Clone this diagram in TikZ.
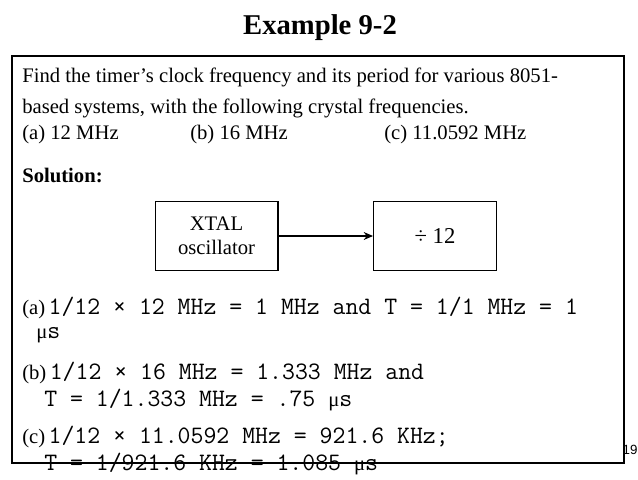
\documentclass[tikz,border=0pt]{standalone}
\usepackage{fontspec}
\setmainfont{Liberation Serif}
\setsansfont{Liberation Sans}
\usetikzlibrary{arrows.meta}
\newcommand{\mt}{\fontsize{18.8}{20}\selectfont\ttfamily}
\newcommand{\mr}{\fontsize{15.5}{17}\selectfont\rmfamily}
\begin{document}
\begin{tikzpicture}[x=0.75pt,y=-0.75pt,
  txt/.style={anchor=west,inner sep=0pt,font=\fontsize{15.5}{17}\selectfont},
  blk/.style={draw,line width=1pt,minimum width=92pt,minimum height=52pt,align=center,font=\fontsize{15.5}{18}\selectfont}]
\useasboundingbox (0,0) rectangle (638,479);
\node[font=\bfseries\fontsize{21.5}{24}\selectfont] (title) at (320,28) {Example 9-2};
\draw[line width=1.5pt] (12,56) rectangle (624,463);
\node[txt] (l1) at (22,77) {Find the timer’s clock frequency and its period for various 8051-};
\node[txt] (l2) at (22,108) {based systems, with the following crystal frequencies.};
\node[txt] (a) at (22,135) {(a) 12 MHz};
\node[txt] (b) at (190,135) {(b) 16 MHz};
\node[txt] (c) at (384,135) {(c) 11.0592 MHz};
\node[txt,font=\bfseries\fontsize{15.5}{17}\selectfont] (sol) at (22,175) {Solution:};
\node[blk] (xtal) at (216.5,236) {XTAL\\oscillator};
\node[blk,font=\fontsize{17}{18}\selectfont] (div) at (435,236) {÷ 12};
\draw[-{Stealth[length=7pt,width=6pt]},line width=0.8pt] (xtal) -- (div);
\node[txt] (pa) at (22,308) {(a)\,\mt 1/12 × 12 MHz = 1 MHz and T = 1/1 MHz = 1};
\node[txt] (pa2) at (36,335) {μ\mt s};
\node[txt] (pb) at (22,373) {(b)\,\mt 1/12 × 16 MHz = 1.333 MHz and};
\node[txt] (pb2) at (44,400) {\mt T = 1/1.333 MHz = .75 \mr μ\mt s};
\node[txt] (pc) at (22,437) {(c)\,\mt 1/12 × 11.0592 MHz = 921.6 KHz;};
\node[txt] (pc2) at (44,464) {\mt T = 1/921.6 KHz = 1.085 \mr μ\mt s};
\node[font=\sffamily\fontsize{10}{11}\selectfont,inner sep=0pt] (pg) at (630,450) {19};
\end{tikzpicture}
\end{document}
